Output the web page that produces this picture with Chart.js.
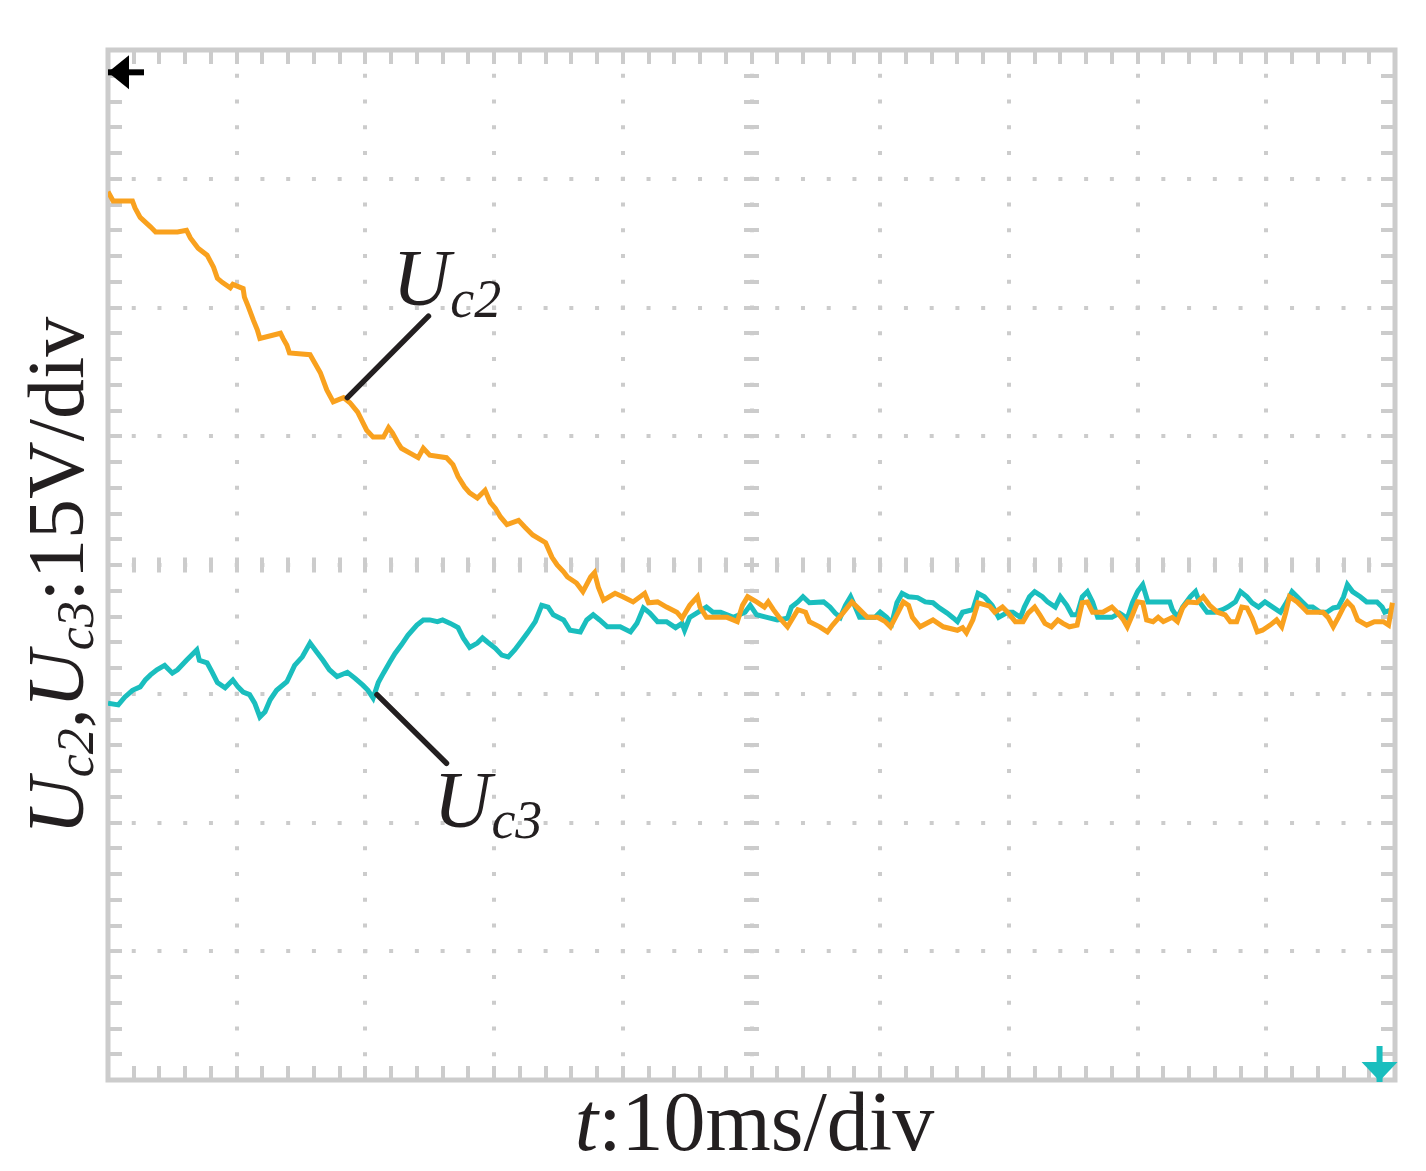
<!DOCTYPE html>
<html lang="en">
<head>
<meta charset="UTF-8">
<title>Uc2 / Uc3 waveform</title>
<script src="https://cdn.jsdelivr.net/npm/chart.js"></script>
<style>
  html, body { margin: 0; padding: 0; background: #fff; }
  canvas { display: block; }
</style>
</head>
<body>
<canvas id="scope" width="1426" height="1171"></canvas>
<script>
// time in ms (10 ms/div), voltage in V (15 V/div, 0 at centre line)
const uc2Time = [0.0,0.4,1.9,2.1,2.5,3.3,3.7,5.4,6.1,6.4,
  7.0,7.7,8.2,8.5,8.9,9.5,9.7,10.5,10.6,10.9,
  11.3,11.6,11.8,13.4,13.6,13.9,14.1,15.7,16.5,17.0,
  17.5,18.3,18.8,19.4,19.7,20.1,20.6,21.4,21.8,22.1,
  22.5,22.8,23.5,24.1,24.5,25.0,26.3,26.8,27.2,27.7,
  28.1,28.7,29.3,29.7,30.1,30.5,31.0,31.9,32.4,33.0,
  34.0,34.5,34.9,35.4,35.7,36.4,36.9,37.5,37.8,38.1,
  38.5,39.4,40.0,40.8,41.7,42.0,42.7,43.4,44.2,44.6,
  45.2,45.8,46.0,46.5,48.1,48.9,49.3,49.7,50.4,51.0,
  51.3,51.7,52.2,52.8,53.2,53.6,54.2,54.5,55.3,55.9,
  56.3,57.1,57.8,58.4,59.0,59.8,60.4,60.8,61.4,61.8,
  62.2,62.5,63.1,64.1,64.9,66.0,66.4,66.7,67.2,67.6,
  68.5,68.9,69.5,69.9,70.5,71.1,71.5,72.0,72.4,72.8,
  73.3,73.8,74.2,74.7,75.3,75.7,76.1,76.5,77.3,78.0,
  78.4,78.9,79.2,79.6,80.0,80.4,80.7,81.2,81.6,82.0,
  82.7,83.1,83.5,83.9,84.6,85.1,85.6,86.2,86.8,87.2,
  87.7,88.1,88.5,88.9,89.3,89.7,90.3,90.8,91.2,91.5,
  91.8,92.4,92.8,93.2,94.4,94.8,95.2,95.6,96.0,96.3,
  96.7,97.1,97.8,98.4,99.1,99.5,99.8];
const uc2Volt = [43.5,42.4,42.4,41.6,40.5,39.4,38.8,38.8,39.0,38.1,
  36.9,36.1,34.7,33.4,32.9,32.3,32.7,32.2,31.2,30.1,
  28.5,27.4,26.4,27.0,26.4,25.6,24.7,24.5,22.4,20.4,
  19.0,19.5,18.9,17.8,16.9,15.7,14.9,14.9,16.0,15.4,
  14.3,13.6,13.0,12.5,13.6,12.8,12.5,11.7,10.3,9.1,
  8.4,7.8,8.7,7.3,6.6,5.6,4.7,5.2,4.4,3.5,
  2.6,0.9,0.0,-0.8,-1.4,-2.1,-3.1,-1.4,-0.9,-2.6,
  -4.1,-3.3,-3.7,-4.3,-3.3,-4.4,-4.3,-4.9,-5.5,-6.2,
  -4.7,-3.7,-4.9,-6.1,-6.1,-6.6,-4.7,-3.7,-4.3,-4.9,
  -4.3,-5.2,-6.2,-7.2,-6.2,-5.2,-5.5,-6.6,-7.2,-7.8,
  -7.0,-5.6,-4.3,-5.2,-6.1,-6.1,-6.6,-7.2,-5.5,-4.3,
  -4.7,-6.1,-7.2,-6.4,-7.2,-7.6,-7.3,-7.9,-6.4,-4.4,
  -4.8,-5.5,-4.9,-5.5,-6.6,-6.6,-5.6,-4.9,-5.8,-6.8,
  -7.2,-6.4,-6.8,-7.2,-7.0,-4.4,-4.3,-5.5,-5.5,-4.9,
  -5.5,-6.4,-7.2,-5.8,-4.3,-4.4,-6.4,-6.6,-6.1,-6.6,
  -6.1,-6.6,-5.0,-4.3,-4.4,-3.7,-4.7,-5.5,-5.8,-6.6,
  -6.6,-4.9,-5.0,-6.2,-7.8,-7.6,-7.0,-6.4,-7.2,-5.6,
  -3.7,-4.3,-4.9,-5.5,-5.5,-6.1,-7.2,-6.1,-4.9,-4.3,
  -4.9,-6.4,-7.0,-6.6,-6.6,-7.0,-4.4];

const uc3Time = [0.0,0.8,1.3,1.9,2.5,2.9,3.3,3.8,4.4,5.0,
  5.4,6.1,6.9,7.1,7.7,8.1,8.5,9.1,9.7,10.1,
  10.5,11.0,11.4,11.8,12.2,12.6,13.1,13.9,14.5,15.1,
  15.7,16.2,16.7,17.2,17.8,18.6,19.2,19.8,20.2,20.6,
  21.0,21.4,21.9,22.3,22.8,23.3,24.0,24.5,25.0,25.6,
  26.0,26.6,27.2,27.6,28.1,28.7,29.1,29.5,30.1,30.6,
  31.1,31.6,32.2,32.6,33.2,33.7,34.2,34.6,35.4,35.9,
  36.7,37.2,37.7,38.2,38.8,39.8,40.6,41.1,41.6,42.1,
  42.7,43.4,44.1,44.6,44.8,45.2,46.5,47.0,47.6,48.6,
  49.5,49.9,50.4,51.2,52.0,52.8,53.1,53.6,54.0,54.5,
  55.6,56.1,56.5,56.9,57.3,57.7,58.0,58.4,59.6,60.0,
  60.5,60.9,61.3,61.7,62.2,62.9,63.5,64.1,64.6,65.2,
  65.7,66.0,66.4,67.2,67.6,68.1,68.7,69.2,69.9,70.3,
  70.9,71.2,71.6,72.0,72.6,73.0,73.6,74.0,74.5,74.9,
  75.3,75.7,76.1,76.5,76.9,78.0,78.6,79.2,79.6,80.0,
  80.4,80.8,82.5,82.7,83.1,83.5,84.1,84.5,84.8,85.4,
  86.0,86.6,87.0,87.6,88.0,88.5,88.9,89.4,89.9,90.5,
  91.1,91.6,92.0,92.4,92.8,93.2,93.6,94.2,94.7,95.2,
  95.6,96.0,96.3,96.7,97.3,97.8,98.6,99.0,99.2,99.8];
const uc3Volt = [-16.1,-16.3,-15.4,-14.6,-14.2,-13.4,-12.8,-12.2,-11.7,-12.6,
  -12.2,-11.1,-9.9,-11.1,-11.4,-12.5,-13.7,-14.3,-13.4,-14.2,
  -14.8,-15.1,-16.1,-17.7,-17.1,-15.7,-14.6,-13.6,-11.7,-10.7,
  -9.1,-10.1,-11.1,-12.2,-13.0,-12.5,-13.2,-14.0,-14.6,-15.5,
  -13.7,-12.6,-11.3,-10.3,-9.3,-8.2,-7.0,-6.4,-6.4,-6.6,
  -6.4,-6.8,-7.3,-8.5,-9.6,-9.1,-8.5,-9.0,-9.7,-10.5,
  -10.7,-9.9,-8.7,-7.9,-6.6,-4.7,-4.9,-5.8,-6.4,-7.6,
  -7.8,-6.4,-5.8,-6.4,-7.2,-7.2,-7.8,-6.8,-5.0,-5.6,
  -6.6,-6.6,-7.3,-6.8,-7.6,-6.1,-4.9,-5.5,-5.5,-6.1,
  -5.5,-4.7,-5.8,-6.1,-6.4,-6.2,-4.9,-4.3,-3.7,-4.4,
  -4.3,-4.9,-5.6,-6.1,-4.7,-3.7,-4.7,-6.1,-6.1,-5.5,
  -6.1,-6.8,-4.4,-3.3,-3.7,-3.8,-4.3,-4.4,-5.0,-5.6,
  -6.2,-6.6,-5.5,-5.2,-3.3,-3.7,-4.7,-6.1,-5.5,-5.5,
  -6.1,-4.9,-3.7,-3.1,-3.7,-4.3,-4.9,-3.7,-4.7,-5.8,
  -5.8,-3.7,-3.1,-4.3,-6.1,-6.1,-5.6,-6.2,-4.4,-3.1,
  -2.3,-4.3,-4.3,-5.2,-6.1,-4.9,-3.7,-3.1,-4.3,-5.5,
  -5.5,-5.2,-4.9,-4.3,-3.1,-3.7,-4.4,-4.9,-4.3,-4.9,
  -5.5,-4.3,-3.1,-3.7,-4.3,-4.9,-4.9,-5.5,-5.5,-5.0,
  -4.9,-3.7,-2.3,-3.1,-3.7,-4.3,-4.3,-4.9,-5.5,-5.2];

const timeRange = [0, 100];     // 10 divisions
const voltRange = [-60, 60];    // 8 divisions
const timeDiv = 10;
const voltDiv = 15;

// annotation anchors, in data units
const uc2Pointer = [[18.6, 19.5], [24.9, 29.0]];
const uc3Pointer = [[20.9, -15.1], [26.3, -23.1]];
const uc2LabelAt = [22.1, 30.3];
const uc3LabelAt = [25.3, -30.5];
const ch1GroundV = 57.4;
const ch2TriggerT = 98.8;

const orange = '#f9a11e';
const teal = '#1abebe';
const gridColor = '#cccccc';
const ink = '#231f20';
const serif = '"Liberation Serif", "Times New Roman", serif';

function pairs(ts, vs) {
    return ts.map((t, i) => ({ x: t, y: vs[i] }));
}

function subLabel(ctx, x, y, main, sub, size, subSize, drop) {
    ctx.font = `italic ${size}px ${serif}`;
    ctx.fillText(main, x, y);
    const w = ctx.measureText(main).width;
    ctx.font = `italic ${subSize}px ${serif}`;
    ctx.fillText(sub, x + w, y + drop);
    return x + w + ctx.measureText(sub).width;
}

const scopeFrame = {
    id: 'scopeFrame',
    beforeDatasetsDraw(chart) {
        const { ctx, chartArea: a, scales: { x, y } } = chart;
        const xc = x.getPixelForValue((timeRange[0] + timeRange[1]) / 2);
        const yc = y.getPixelForValue(0);
        ctx.save();
        ctx.strokeStyle = gridColor;
        ctx.lineWidth = 4;
        ctx.beginPath();
        for (let v = timeRange[0]; v <= timeRange[1] + 0.01; v += timeDiv / 5) {
            const px = Math.round(x.getPixelForValue(v));
            ctx.moveTo(px, a.top); ctx.lineTo(px, a.top + 14);
            ctx.moveTo(px, a.bottom); ctx.lineTo(px, a.bottom - 14);
            ctx.moveTo(px, yc - 7.5); ctx.lineTo(px, yc + 7.5);
        }
        for (let v = voltRange[0]; v <= voltRange[1] + 0.01; v += voltDiv / 5) {
            const py = Math.round(y.getPixelForValue(v));
            ctx.moveTo(a.left, py); ctx.lineTo(a.left + 14, py);
            ctx.moveTo(a.right, py); ctx.lineTo(a.right - 14, py);
            ctx.moveTo(xc - 7.5, py); ctx.lineTo(xc + 7.5, py);
        }
        ctx.stroke();
        ctx.lineWidth = 5;
        ctx.strokeRect(a.left, a.top, a.right - a.left, a.bottom - a.top);
        ctx.restore();
    },
    afterDatasetsDraw(chart) {
        const { ctx, chartArea: a, scales: { x, y } } = chart;
        ctx.save();

        // channel ground marker (left) and trigger marker (bottom right)
        const gx = x.getPixelForValue(timeRange[0]);
        const gy = y.getPixelForValue(ch1GroundV);
        ctx.fillStyle = '#000';
        ctx.beginPath();
        ctx.moveTo(gx, gy); ctx.lineTo(gx + 21, gy - 17); ctx.lineTo(gx + 21, gy + 17);
        ctx.closePath(); ctx.fill();
        ctx.fillRect(gx, gy - 3, 36, 6);

        const tx = x.getPixelForValue(ch2TriggerT);
        const ty = y.getPixelForValue(voltRange[0]);
        ctx.fillStyle = teal;
        ctx.beginPath();
        ctx.moveTo(tx, ty + 1); ctx.lineTo(tx - 18, ty - 18); ctx.lineTo(tx + 18, ty - 18);
        ctx.closePath(); ctx.fill();
        ctx.fillRect(tx - 3, ty - 34, 6, 36);

        // pointer lines
        ctx.strokeStyle = ink;
        ctx.lineWidth = 5.5;
        ctx.lineCap = 'round';
        [uc2Pointer, uc3Pointer].forEach(p => {
            ctx.beginPath();
            ctx.moveTo(x.getPixelForValue(p[0][0]), y.getPixelForValue(p[0][1]));
            ctx.lineTo(x.getPixelForValue(p[1][0]), y.getPixelForValue(p[1][1]));
            ctx.stroke();
        });

        ctx.fillStyle = ink;
        ctx.textBaseline = 'alphabetic';
        subLabel(ctx, x.getPixelForValue(uc2LabelAt[0]), y.getPixelForValue(uc2LabelAt[1]), 'U', 'c2', 80, 54, 12);
        subLabel(ctx, x.getPixelForValue(uc3LabelAt[0]), y.getPixelForValue(uc3LabelAt[1]), 'U', 'c3', 80, 54, 11);

        // x title: t:10ms/div
        ctx.font = `italic 84px ${serif}`;
        const wt = ctx.measureText('t').width;
        ctx.font = `84px ${serif}`;
        const wr = ctx.measureText(':10ms/div').width;
        const sx = (a.left + a.right) / 2 - (wt + wr) / 2 + 3;
        ctx.font = `italic 84px ${serif}`;
        ctx.fillText('t', sx, a.bottom + 70);
        ctx.font = `84px ${serif}`;
        ctx.fillText(':10ms/div', sx + wt, a.bottom + 70);

        // y title: Uc2, Uc3:15V/div (rotated)
        ctx.translate(a.left - 25, (a.top + a.bottom) / 2 + 270);
        ctx.rotate(-Math.PI / 2);
        let px = subLabel(ctx, 0, 0, 'U', 'c2', 80, 52, 10);
        ctx.font = `80px ${serif}`;
        ctx.fillText(',', px, 0);
        px += ctx.measureText(',').width;
        px = subLabel(ctx, px, 0, 'U', 'c3', 80, 52, 10);
        ctx.font = `80px ${serif}`;
        ctx.fillText(':15V/div', px, 0);

        ctx.restore();
    }
};

const ctx = document.getElementById('scope').getContext('2d');
const scopeChart = new Chart(ctx, {
    type: 'line',
    data: {
        datasets: [
            {
                label: 'Uc2',
                data: pairs(uc2Time, uc2Volt),
                borderColor: orange,
                borderWidth: 5,
                pointRadius: 0,
                tension: 0,
                fill: false
            },
            {
                label: 'Uc3',
                data: pairs(uc3Time, uc3Volt),
                borderColor: teal,
                borderWidth: 5,
                pointRadius: 0,
                tension: 0,
                fill: false
            }
        ]
    },
    options: {
        responsive: false,
        animation: false,
        devicePixelRatio: 1,
        layout: { padding: { left: 108, right: 31, top: 50, bottom: 91 } },
        plugins: {
            legend: { display: false },
            tooltip: { enabled: false }
        },
        scales: {
            x: {
                type: 'linear',
                min: timeRange[0],
                max: timeRange[1],
                ticks: { stepSize: timeDiv, display: false },
                grid: { color: gridColor, lineWidth: 4, drawTicks: false },
                border: { display: false, dash: [4, 21.75], dashOffset: 2 }
            },
            y: {
                type: 'linear',
                min: voltRange[0],
                max: voltRange[1],
                ticks: { stepSize: voltDiv, display: false },
                grid: { color: gridColor, lineWidth: 4, drawTicks: false },
                border: { display: false, dash: [4, 21.74], dashOffset: 2 }
            }
        }
    },
    plugins: [scopeFrame]
});
</script>
</body>
</html>
